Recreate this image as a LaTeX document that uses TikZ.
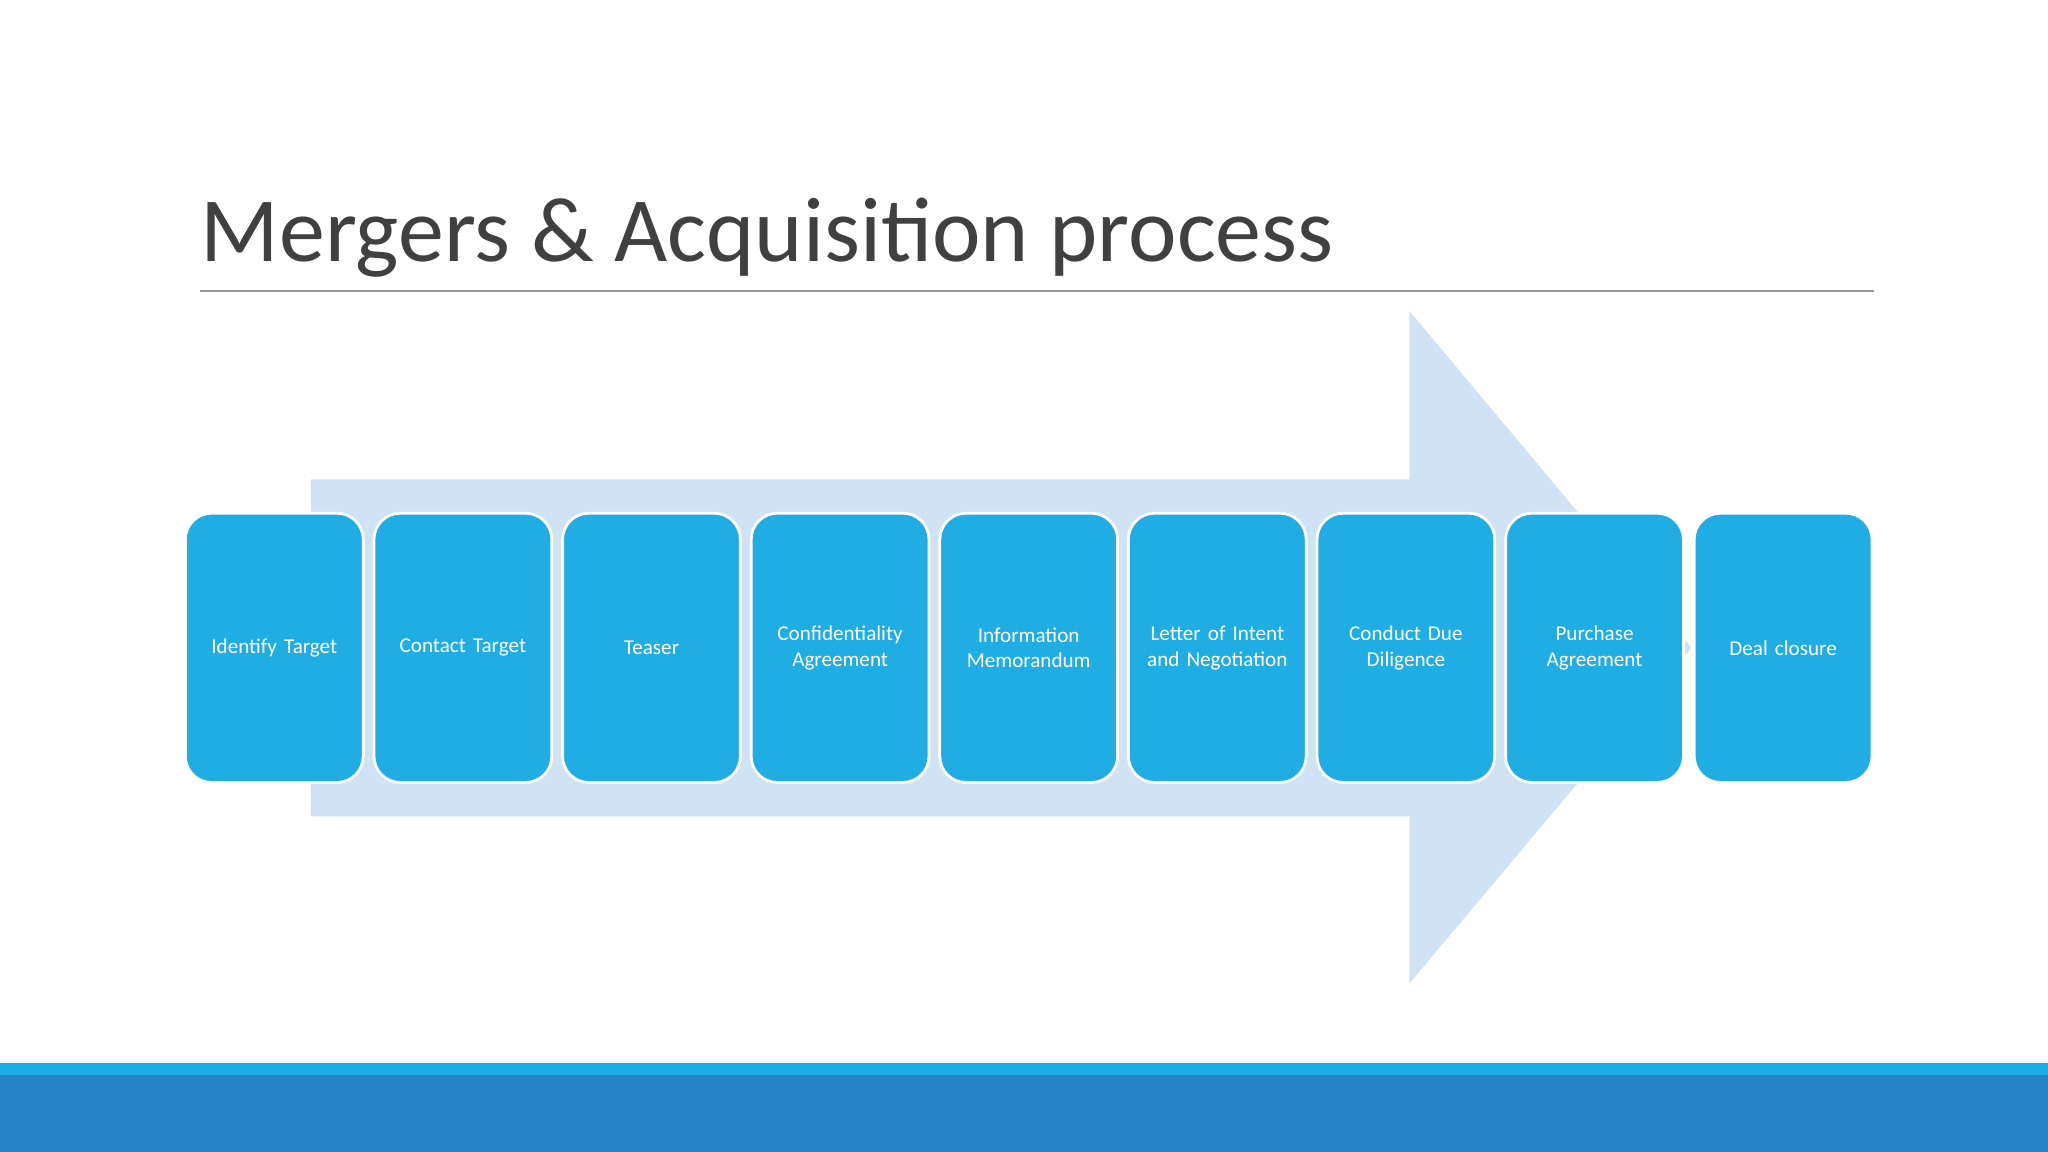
\documentclass[tikz,border=0pt]{standalone}
\usepackage{fontspec}
\setmainfont{Carlito}
\begin{document}
\begin{tikzpicture}[x=0.01cm,y=-0.01cm,
  stepbox/.style={draw=white,line width=0.6pt,fill=boxblue,rounded corners=0.2cm,minimum width=1.36cm,minimum height=2.06cm,text width=1.3cm,align=center,text=white,font=\fontsize{4.6}{5.6}\selectfont,inner sep=0pt}]
\definecolor{boxblue}{HTML}{1FADE4}
\definecolor{arrowblue}{HTML}{CFE3F4}
\definecolor{bandlight}{HTML}{1CADE4}
\definecolor{banddark}{HTML}{2683C6}
\useasboundingbox (0,0) rectangle (1568,882);
\fill[white] (0,0) rectangle (1568,882);
\node[anchor=base west,inner sep=0pt,text=black!75,font=\fontsize{20}{24}\selectfont] (title) at (153,200) {Mergers \& Acquisition process};
\draw[gray!80,line width=0.4pt] (153,223) -- (1435,223);
\fill[arrowblue] (238,367) -- (1079,367) -- (1079,238) -- (1295,496) -- (1079,753) -- (1079,625) -- (238,625) -- cycle;
\foreach \i/\t in {0/{Identify Target},1/{Contact Target},2/{Teaser},3/{Confidentiality Agreement},4/{Information Memorandum},5/{Letter of Intent and Negotiation},6/{Conduct Due Diligence},7/{Purchase Agreement},8/{Deal closure}}
  \node[stepbox] (s\i) at ({210+144.4*\i},496) {\t};
\fill[bandlight] (0,814) rectangle (1568,823);
\fill[banddark] (0,823) rectangle (1568,882);
\end{tikzpicture}
\end{document}
